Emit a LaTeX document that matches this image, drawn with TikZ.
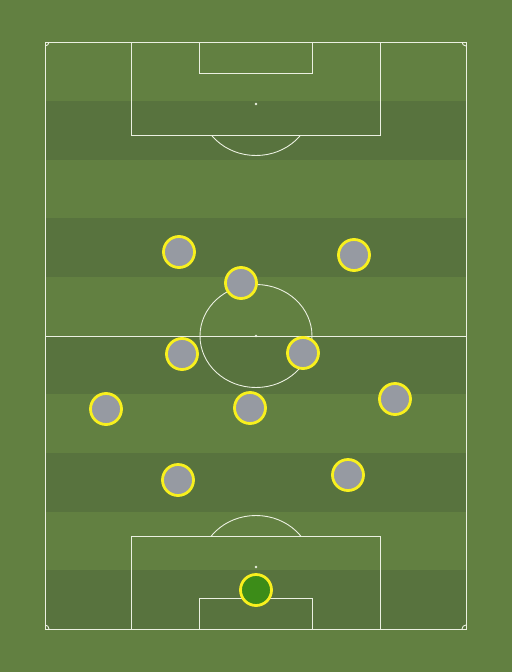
\documentclass[tikz,border=0pt]{standalone}
\usepackage{tikz}
\usepackage{color}
\usetikzlibrary{positioning}

\definecolor{grasslight}{RGB}{98,128,65}
\definecolor{grassdark}{RGB}{88,115,62}
\definecolor{linewhite}{RGB}{235,240,225}
\definecolor{shirtgray}{RGB}{150,154,162}
\definecolor{keepergreen}{RGB}{60,140,24}
\definecolor{ringyellow}{RGB}{248,240,30}

\tikzset{
  pitchline/.style={linewhite, line width=0.9pt},
  player/.style={circle, draw=ringyellow, line width=2.8pt, fill=shirtgray,
    minimum size=31pt, inner sep=0pt},
  keeper/.style={player, fill=keepergreen},
}

\begin{document}
\begin{tikzpicture}[x=1pt, y=-1pt]
  \fill[grasslight] (0,0) rectangle (512,672);
  \useasboundingbox (0,0) rectangle (512,672);

  % Darker stripes
  \fill[grassdark] (45,101) rectangle (466,160);
  \fill[grassdark] (45,218) rectangle (466,277);
  \fill[grassdark] (45,336) rectangle (466,394);
  \fill[grassdark] (45,453) rectangle (466,512);
  \fill[grassdark] (45,570) rectangle (466,629);

  % Outline and halfway line
  \draw[pitchline] (45,42) rectangle (466,629);
  \draw[pitchline] (45,336) -- (466,336);
  \draw[pitchline] (256,336) ellipse (56 and 51.5);
  \fill[linewhite] (256,336) circle (1.4);

  % Corner arcs
  \begin{scope}
    \clip (45,42) rectangle (466,629);
    \draw[pitchline] (45,42) circle (4);
    \draw[pitchline] (466,42) circle (4);
    \draw[pitchline] (45,629) circle (4);
    \draw[pitchline] (466,629) circle (4);
  \end{scope}

  % Top area
  \draw[pitchline] (131,42) rectangle (380,135);
  \draw[pitchline] (199,42) rectangle (312,73);
  \fill[linewhite] (256,104) circle (1.4);
  \begin{scope}
    \clip (0,135) rectangle (512,200);
    \draw[pitchline] (256,104) ellipse (56 and 51.5);
  \end{scope}

  % Bottom area
  \draw[pitchline] (131,536) rectangle (380,629);
  \draw[pitchline] (199,598) rectangle (312,629);
  \fill[linewhite] (256,567) circle (1.4);
  \begin{scope}
    \clip (0,470) rectangle (512,536);
    \draw[pitchline] (256,567) ellipse (56 and 51.5);
  \end{scope}

  % Players
  \node[player] (lf) at (179,252) {};
  \node[player] (rf) at (354,255) {};
  \node[player] (cf) at (241,283) {};
  \node[player] (lcm) at (182,354) {};
  \node[player] (rcm) at (303,353) {};
  \node[player] (lw) at (106,409) {};
  \node[player] (dm) at (250,408) {};
  \node[player] (rw) at (395,399) {};
  \node[player] (lb) at (178,480) {};
  \node[player] (rb) at (348,475) {};
  \node[keeper] (gk) at (256,590) {};
\end{tikzpicture}
\end{document}
